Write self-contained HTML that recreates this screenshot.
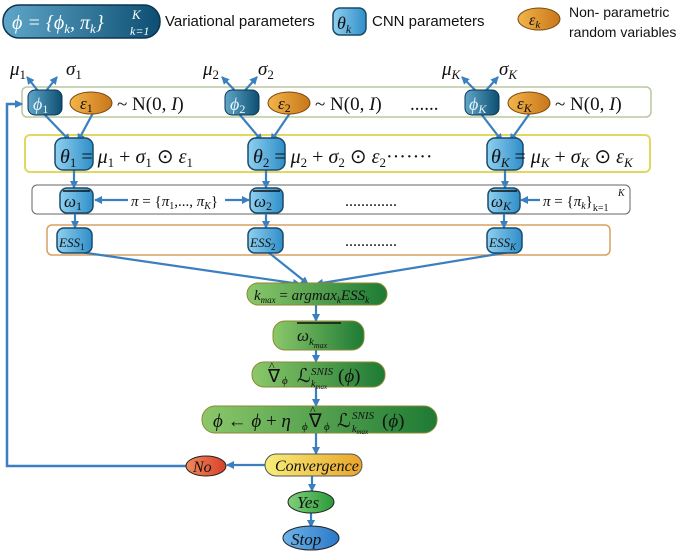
<!DOCTYPE html>
<html><head><meta charset="utf-8"><style>
body{margin:0;background:#fff;}
svg{display:block}
text{font-family:"Liberation Serif",serif;font-style:italic;fill:#111}
.s{font-family:"Liberation Sans",sans-serif;font-style:normal}
.n{font-style:normal}
</style></head><body>
<svg width="685" height="554" viewBox="0 0 685 554" xmlns="http://www.w3.org/2000/svg">
<defs>
<linearGradient id="db" x1="0" x2="1"><stop offset="0" stop-color="#5fa6c9"/><stop offset="1" stop-color="#0d4f72"/></linearGradient>
<linearGradient id="lb" x1="0" x2="1"><stop offset="0" stop-color="#8fd0f0"/><stop offset="1" stop-color="#2f8ec8"/></linearGradient>
<linearGradient id="or" x1="0" x2="1"><stop offset="0" stop-color="#f2b54a"/><stop offset="1" stop-color="#c9761a"/></linearGradient>
<linearGradient id="gr" x1="0" x2="1"><stop offset="0" stop-color="#8cc86a"/><stop offset="1" stop-color="#1d7a34"/></linearGradient>
<linearGradient id="yl" x1="0" x2="1"><stop offset="0" stop-color="#f7ee7a"/><stop offset="1" stop-color="#e9a52a"/></linearGradient>
<linearGradient id="gy" x1="0" x2="1"><stop offset="0" stop-color="#7fd07a"/><stop offset="1" stop-color="#2a9a3a"/></linearGradient>
<linearGradient id="rd" x1="0" x2="1"><stop offset="0" stop-color="#f08a5a"/><stop offset="1" stop-color="#d8402a"/></linearGradient>
<linearGradient id="bs" x1="0" x2="1"><stop offset="0" stop-color="#6fb4ea"/><stop offset="1" stop-color="#2a78c8"/></linearGradient>
<marker id="a" markerWidth="8" markerHeight="8" refX="7" refY="4" orient="auto" markerUnits="userSpaceOnUse"><path d="M0,0 L8,4 L0,8 z" fill="#3a7fc0"/></marker>
</defs>

<!-- legend -->
<rect x="3" y="5" width="157" height="33" rx="16" fill="url(#db)" stroke="#0b3550" stroke-width="1.5"/>
<text x="12" y="29" font-size="20" style="fill:#fff">ϕ = {ϕ<tspan font-size="13" dy="4">k</tspan><tspan dy="-4">, π</tspan><tspan font-size="13" dy="4">k</tspan><tspan dy="-4">}</tspan></text>
<text x="132" y="19" font-size="13" style="fill:#fff">K</text>
<text x="130" y="35" font-size="12" style="fill:#fff">k=1</text>
<text class="s" x="165" y="26" font-size="15">Variational parameters</text>
<rect x="333" y="8" width="33" height="27" rx="7" fill="url(#lb)" stroke="#1a4a6a" stroke-width="1.5"/>
<text x="337" y="29" font-size="18">θ<tspan font-size="12" dy="4">k</tspan></text>
<text class="s" x="372" y="26" font-size="15">CNN parameters</text>
<ellipse cx="539" cy="19" rx="21" ry="11" fill="url(#or)" stroke="#7a4a10"/>
<text x="529" y="25" font-size="16">ε<tspan font-size="11" dy="3">k</tspan></text>
<text class="s" x="569" y="17" font-size="14">Non- parametric</text>
<text class="s" x="569" y="37" font-size="14">random variables</text>

<!-- boxes -->
<rect x="22" y="87" width="629" height="30" rx="5" fill="#fff" stroke="#b8c8a0" stroke-width="1.5"/>
<rect x="25" y="135" width="625" height="37" rx="5" fill="#fff" stroke="#e0d860" stroke-width="2"/>
<rect x="32" y="185" width="598" height="29" rx="5" fill="#fff" stroke="#666" stroke-width="1"/>
<rect x="47" y="225" width="563" height="30" rx="5" fill="#fff" stroke="#d8a060" stroke-width="1.5"/>

<polyline points="186,466 7,466 7,104 22,104" fill="none" stroke="#3a7fc0" stroke-width="2.5" marker-end="url(#a)"/>

<g stroke="#3a7fc0" stroke-width="2.2" fill="none" marker-end="url(#a)">
<line x1="42" y1="96" x2="27" y2="77"/><line x1="42" y1="96" x2="57" y2="77"/>
<line x1="240" y1="96" x2="222" y2="77"/><line x1="240" y1="96" x2="257" y2="77"/>
<line x1="481" y1="96" x2="462" y2="77"/><line x1="481" y1="96" x2="498" y2="77"/>
<line x1="45" y1="115" x2="70" y2="141"/><line x1="93" y1="113" x2="78" y2="141"/>
<line x1="240" y1="115" x2="262" y2="141"/><line x1="290" y1="113" x2="271" y2="141"/>
<line x1="482" y1="115" x2="502" y2="141"/><line x1="530" y1="113" x2="510" y2="141"/>
<line x1="74" y1="170" x2="74" y2="188"/><line x1="266" y1="170" x2="266" y2="188"/><line x1="505" y1="170" x2="505" y2="188"/>
<line x1="75" y1="213" x2="75" y2="228"/><line x1="266" y1="213" x2="266" y2="228"/><line x1="504" y1="213" x2="504" y2="228"/>
<line x1="80" y1="252" x2="300" y2="284"/><line x1="268" y1="252" x2="308" y2="284"/><line x1="510" y1="252" x2="316" y2="284"/>
<line x1="316" y1="305" x2="316" y2="321"/>
<line x1="316" y1="350" x2="316" y2="362"/>
<line x1="316" y1="387" x2="316" y2="406"/>
<line x1="316" y1="433" x2="316" y2="454"/>
<line x1="265" y1="465" x2="227" y2="465"/>
<line x1="312" y1="476" x2="312" y2="491"/>
<line x1="311" y1="513" x2="311" y2="527"/>
<line x1="128" y1="200" x2="95" y2="200"/><line x1="225" y1="200" x2="249" y2="200"/>
<line x1="540" y1="200" x2="521" y2="200"/>
</g>

<g font-size="19">
<text x="10" y="75">μ<tspan font-size="13" dy="4" class="n">1</tspan></text><text x="66" y="75">σ<tspan font-size="13" dy="4" class="n">1</tspan></text>
<text x="203" y="75">μ<tspan font-size="13" dy="4" class="n">2</tspan></text><text x="258" y="75">σ<tspan font-size="13" dy="4" class="n">2</tspan></text>
<text x="442" y="75">μ<tspan font-size="13" dy="4">K</tspan></text><text x="499" y="75">σ<tspan font-size="13" dy="4">K</tspan></text>
</g>

<rect x="28" y="90" width="34" height="25" rx="7" fill="url(#db)" stroke="#0b3550"/>
<rect x="225" y="90" width="34" height="25" rx="7" fill="url(#db)" stroke="#0b3550"/>
<rect x="465" y="90" width="34" height="25" rx="7" fill="url(#db)" stroke="#0b3550"/>
<text x="33" y="110" font-size="18" style="fill:#e8f4fa">ϕ<tspan font-size="12" dy="3" class="n">1</tspan></text>
<text x="230" y="110" font-size="18" style="fill:#e8f4fa">ϕ<tspan font-size="12" dy="3" class="n">2</tspan></text>
<text x="469" y="110" font-size="18" style="fill:#e8f4fa">ϕ<tspan font-size="12" dy="3">K</tspan></text>
<ellipse cx="91" cy="103" rx="21" ry="11" fill="url(#or)" stroke="#7a4a10"/>
<ellipse cx="289" cy="103" rx="21" ry="11" fill="url(#or)" stroke="#7a4a10"/>
<ellipse cx="529" cy="103" rx="21" ry="11" fill="url(#or)" stroke="#7a4a10"/>
<text x="80" y="109" font-size="17">ε<tspan font-size="12" dy="3" class="n">1</tspan></text>
<text x="278" y="109" font-size="17">ε<tspan font-size="12" dy="3" class="n">2</tspan></text>
<text x="517" y="109" font-size="17">ε<tspan font-size="12" dy="3">K</tspan></text>
<text class="n" x="117" y="110" font-size="19">~ N(0, <tspan style="font-style:italic">I</tspan>)</text>
<text class="n" x="315" y="110" font-size="19">~ N(0, <tspan style="font-style:italic">I</tspan>)</text>
<text class="n" x="410" y="110" font-size="19">......</text>
<text class="n" x="555" y="110" font-size="19">~ N(0, <tspan style="font-style:italic">I</tspan>)</text>

<rect x="55" y="138" width="38" height="32" rx="8" fill="url(#lb)" stroke="#1a4a6a" stroke-width="1.5"/>
<rect x="248" y="138" width="37" height="32" rx="8" fill="url(#lb)" stroke="#1a4a6a" stroke-width="1.5"/>
<rect x="487" y="138" width="36" height="32" rx="8" fill="url(#lb)" stroke="#1a4a6a" stroke-width="1.5"/>
<g font-size="20">
<text x="60" y="163">θ<tspan font-size="13" dy="4" class="n">1</tspan><tspan dy="-4" class="n">  = </tspan>μ<tspan font-size="13" dy="4" class="n">1</tspan><tspan dy="-4" class="n"> + </tspan>σ<tspan font-size="13" dy="4" class="n">1</tspan><tspan dy="-4" class="n"> ⊙ </tspan>ε<tspan font-size="13" dy="4" class="n">1</tspan></text>
<text x="253" y="163">θ<tspan font-size="13" dy="4" class="n">2</tspan><tspan dy="-4" class="n">  = </tspan>μ<tspan font-size="13" dy="4" class="n">2</tspan><tspan dy="-4" class="n"> + </tspan>σ<tspan font-size="13" dy="4" class="n">2</tspan><tspan dy="-4" class="n"> ⊙ </tspan>ε<tspan font-size="13" dy="4" class="n">2</tspan><tspan dy="-4" class="n">·······</tspan></text>
<text x="491" y="163">θ<tspan font-size="13" dy="4">K</tspan><tspan dy="-4" class="n"> = </tspan>μ<tspan font-size="13" dy="4">K</tspan><tspan dy="-4" class="n"> + </tspan>σ<tspan font-size="13" dy="4">K</tspan><tspan dy="-4" class="n"> ⊙ </tspan>ε<tspan font-size="13" dy="4">K</tspan></text>
</g>

<g fill="url(#lb)" stroke="#1a4a6a" stroke-width="1.5">
<rect x="60" y="188" width="33" height="25" rx="7"/><rect x="250" y="188" width="33" height="25" rx="7"/><rect x="488" y="188" width="32" height="25" rx="7"/>
</g>
<g stroke="#111" stroke-width="1.5"><line x1="63" y1="191" x2="90" y2="191"/><line x1="253" y1="191" x2="280" y2="191"/><line x1="491" y1="191" x2="517" y2="191"/></g>
<text x="64" y="207" font-size="17">ω<tspan font-size="12" dy="3" class="n">1</tspan></text>
<text x="254" y="207" font-size="17">ω<tspan font-size="12" dy="3" class="n">2</tspan></text>
<text x="491" y="207" font-size="17">ω<tspan font-size="12" dy="3">K</tspan></text>
<text class="n" x="131" y="206" font-size="15"><tspan style="font-style:italic">π</tspan> = {<tspan style="font-style:italic">π</tspan><tspan font-size="10" dy="3">1</tspan><tspan dy="-3">,..., </tspan><tspan style="font-style:italic">π</tspan><tspan font-size="10" dy="3" style="font-style:italic">K</tspan><tspan dy="-3">}</tspan></text>
<text class="n" x="345" y="206" font-size="16">.............</text>
<text class="n" x="543" y="206" font-size="15"><tspan style="font-style:italic">π</tspan> = {<tspan style="font-style:italic">π</tspan><tspan font-size="10" dy="3" style="font-style:italic">k</tspan><tspan dy="-3">}</tspan><tspan font-size="10" dy="5">k=1</tspan></text>
<text x="618" y="196" font-size="10">K</text>

<g fill="url(#lb)" stroke="#1a4a6a" stroke-width="1.5">
<rect x="57" y="228" width="35" height="25" rx="7"/><rect x="248" y="228" width="35" height="25" rx="7"/><rect x="487" y="228" width="35" height="25" rx="7"/>
</g>
<text x="59" y="247" font-size="13">ESS<tspan font-size="9" dy="3" class="n">1</tspan></text>
<text x="250" y="247" font-size="13">ESS<tspan font-size="9" dy="3" class="n">2</tspan></text>
<text x="489" y="247" font-size="13">ESS<tspan font-size="9" dy="3">K</tspan></text>
<text class="n" x="345" y="246" font-size="16">.............</text>

<rect x="247" y="283" width="140" height="22" rx="11" fill="url(#gr)" stroke="#8a8a30"/>
<text x="254" y="300" font-size="15">k<tspan font-size="9" dy="3">max</tspan><tspan dy="-3" class="n"> = </tspan>argmax<tspan font-size="9" dy="3">k</tspan><tspan dy="-3">ESS</tspan><tspan font-size="9" dy="3">k</tspan></text>
<rect x="273" y="321" width="91" height="29" rx="12" fill="url(#gr)" stroke="#8a8a30"/>
<line x1="297" y1="323" x2="341" y2="323" stroke="#111" stroke-width="1.5"/>
<text x="297" y="341" font-size="17">ω<tspan font-size="11" dy="4">k</tspan><tspan font-size="8" dy="3">max</tspan></text>

<rect x="252" y="362" width="133" height="25" rx="12" fill="url(#gr)" stroke="#8a8a30"/>
<text class="n" x="268" y="382" font-size="18">∇</text>
<text class="n" x="269" y="370" font-size="12">^</text>
<text x="282" y="384" font-size="11">ϕ</text>
<text class="n" x="297" y="382" font-size="19">ℒ</text>
<text x="311" y="375" font-size="11">SNIS</text>
<text x="311" y="387" font-size="10">k<tspan font-size="7" dy="2">max</tspan></text>
<text class="n" x="338" y="382" font-size="19">(<tspan style="font-style:italic">ϕ</tspan>)</text>

<rect x="202" y="406" width="235" height="27" rx="13" fill="url(#gr)" stroke="#8a8a30"/>
<text class="n" x="213" y="427" font-size="19"><tspan style="font-style:italic">ϕ</tspan> ← <tspan style="font-style:italic">ϕ</tspan> + <tspan style="font-style:italic">η</tspan></text>
<text x="302" y="430" font-size="11">ϕ</text>
<text class="n" x="309" y="427" font-size="19">∇</text>
<text class="n" x="310" y="414" font-size="12">^</text>
<text x="324" y="430" font-size="11">ϕ</text>
<text class="n" x="337" y="427" font-size="19">ℒ</text>
<text x="352" y="419" font-size="11">SNIS</text>
<text x="352" y="432" font-size="10">k<tspan font-size="7" dy="2">max</tspan></text>
<text class="n" x="382" y="427" font-size="19">(<tspan style="font-style:italic">ϕ</tspan>)</text>

<rect x="265" y="454" width="97" height="22" rx="11" fill="url(#yl)" stroke="#555"/>
<text x="275" y="471" font-size="16">Convergence</text>
<ellipse cx="206" cy="466" rx="20" ry="10" fill="url(#rd)" stroke="#222"/>
<text x="193" y="472" font-size="16">No</text>
<ellipse cx="311" cy="502" rx="23" ry="11" fill="url(#gy)" stroke="#222"/>
<text x="297" y="508" font-size="17">Yes</text>
<ellipse cx="311" cy="538" rx="28" ry="12" fill="url(#bs)" stroke="#222"/>
<text x="291" y="545" font-size="17">Stop</text>
</svg>
</body></html>
